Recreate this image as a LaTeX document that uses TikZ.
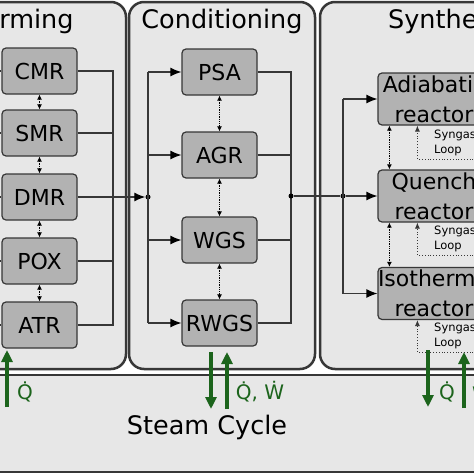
\documentclass[tikz,border=0pt]{standalone}
\usepackage{fontspec}
\setmainfont{DejaVu Sans}
\usetikzlibrary{arrows.meta,positioning,calc}
\definecolor{panelgray}{RGB}{231,231,231}
\definecolor{boxgray}{RGB}{178,178,178}
\definecolor{linegray}{RGB}{55,55,55}
\definecolor{heatgreen}{RGB}{28,100,28}

\begin{document}
\begin{tikzpicture}[x=1pt,y=-1pt,
  panel/.style={draw=linegray,fill=panelgray,line width=2.5pt,rounded corners=15pt},
  unit/.style={draw=linegray,fill=boxgray,line width=1.2pt,rounded corners=4pt,minimum width=75pt,minimum height=46pt,inner sep=0pt,font=\fontsize{22}{26}\selectfont},
  reac/.style={unit,text width=112pt,minimum height=52pt,align=center,font=\fontsize{22}{30}\selectfont},
  title/.style={font=\fontsize{25.5}{30}\selectfont,anchor=base,inner sep=0pt},
  flow/.style={draw=linegray,line width=1.2pt},
  feed/.style={flow,-{Latex[length=11pt,width=9pt,fill=black,color=black]}},
  link/.style={black,line width=1.3pt,densely dotted,{Latex[length=5pt,width=5pt]}-{Latex[length=5pt,width=5pt]}},
  loop/.style={linegray,line width=0.8pt,dotted,-{Latex[length=6pt,width=5pt]}},
  syn/.style={font=\fontsize{11.5}{15}\selectfont,align=left,anchor=west,inner sep=0pt},
  jn/.style={circle,fill=black,inner sep=0pt,minimum size=5pt},
  heat/.style={heatgreen,line width=4pt,-{Triangle[length=12pt,width=11pt]}},
  qlabel/.style={text=heatgreen,font=\fontsize{20}{24}\selectfont,inner sep=0pt}]
\useasboundingbox (0,0) rectangle (474,474);
\clip (0,0) rectangle (474,474);

\draw[panel] (-120,2) rectangle (126,369);
\draw[panel] (129,2) rectangle (315,369);
\draw[panel] (320,2) rectangle (620,369);
\draw[panel,rounded corners=0pt,line width=2pt] (-10,375) rectangle (490,472);

\node[title] (tref) at (8,28) {Reforming};
\node[title] (tcon) at (222,28) {Conditioning};
\node[title,anchor=base west] (tsyn) at (388,28) {Synthesis};
\node[title] (tsteam) at (207,434) {Steam Cycle};

\node[unit] (cmr) at (39.5,71) {CMR};
\node[unit] (smr) at (39.5,133) {SMR};
\node[unit] (dmr) at (39.5,197) {DMR};
\node[unit] (pox) at (39.5,261) {POX};
\node[unit] (atr) at (39.5,325) {ATR};

\node[unit] (psa) at (219.5,72) {PSA};
\node[unit] (agr) at (219.5,155) {AGR};
\node[unit] (wgs) at (219.5,240) {WGS};
\node[unit] (rwgs) at (219.5,323) {RWGS};

\node[reac] (adia) at (434,99) {Adiabatic\\reactor};
\node[reac] (quen) at (434,196) {Quench\\reactor};
\node[reac] (iso) at (434,293.5) {Isothermal\\reactor};

\coordinate (in1) at (-20,71);
\coordinate (in2) at (-20,133);
\coordinate (in3) at (-20,197);
\coordinate (in4) at (-20,261);
\coordinate (in5) at (-20,325);
\draw[flow] (in1) -- (cmr.west);
\draw[flow] (in2) -- (smr.west);
\draw[flow] (in3) -- (dmr.west);
\draw[flow] (in4) -- (pox.west);
\draw[flow] (in5) -- (atr.west);

\coordinate (rc1) at (113,71);
\coordinate (rc2) at (113,133);
\coordinate (rc4) at (113,261);
\coordinate (rc5) at (113,325);
\draw[flow] (cmr.east) -- (rc1) -- (rc5) -- (atr.east);
\draw[flow] (smr.east) -- (rc2);
\draw[flow] (pox.east) -- (rc4);
\node[jn] (jc1) at (148,197) {};
\draw[feed] (dmr.east) -- (jc1);

\coordinate (cl1) at (148,72);
\coordinate (cl2) at (148,155);
\coordinate (cl3) at (148,240);
\coordinate (cl4) at (148,323);
\draw[flow] (cl1) -- (cl4);
\draw[feed] (cl1) -- (psa.west);
\draw[feed] (cl2) -- (agr.west);
\draw[feed] (cl3) -- (wgs.west);
\draw[feed] (cl4) -- (rwgs.west);

\coordinate (cr1) at (291,72);
\coordinate (cr2) at (291,155);
\coordinate (cr3) at (291,240);
\coordinate (cr4) at (291,323);
\draw[flow] (psa.east) -- (cr1) -- (cr4) -- (rwgs.east);
\draw[flow] (agr.east) -- (cr2);
\draw[flow] (wgs.east) -- (cr3);
\node[jn] (jc2) at (291,196) {};
\node[jn] (jc3) at (343,196) {};
\draw[flow] (jc2) -- (jc3);

\coordinate (sl1) at (343,99);
\coordinate (sl3) at (343,293.5);
\draw[flow] (sl1) -- (sl3);
\draw[feed] (sl1) -- (adia.west);
\draw[feed] (jc3) -- (quen.west);
\draw[feed] (sl3) -- (iso.west);

\draw[link] (cmr.south) -- (smr.north);
\draw[link] (smr.south) -- (dmr.north);
\draw[link] (dmr.south) -- (pox.north);
\draw[link] (pox.south) -- (atr.north);
\draw[link] (psa.south) -- (agr.north);
\draw[link] (agr.south) -- (wgs.north);
\draw[link] (wgs.south) -- (rwgs.north);
\draw[link] ($(adia.south west)+(12,0)$) -- ($(quen.north west)+(12,0)$);
\draw[link] ($(quen.south west)+(12,0)$) -- ($(iso.north west)+(12,0)$);

\coordinate (la) at (490,159);
\coordinate (lq) at (490,255);
\coordinate (li) at (490,352);
\draw[loop] (la) -| ($(adia.south west)+(40,0)$);
\draw[loop] (lq) -| ($(quen.south west)+(40,0)$);
\draw[loop] (li) -| ($(iso.south west)+(40,0)$);
\node[syn] (sga) at (434,143) {Syngas\\Loop};
\node[syn] (sgq) at (434,239) {Syngas\\Loop};
\node[syn] (sgi) at (434,336) {Syngas\\Loop};

\coordinate (qr0) at (7,407);
\coordinate (qr1) at (7,350);
\coordinate (qc0) at (211,352);
\coordinate (qc1) at (211,409);
\coordinate (wc0) at (227,409);
\coordinate (wc1) at (227,352);
\coordinate (qs0) at (428,350);
\coordinate (qs1) at (428,407);
\coordinate (ws0) at (464,408);
\coordinate (ws1) at (464,352);
\draw[heat] (qr0) -- (qr1);
\draw[heat] (qc0) -- (qc1);
\draw[heat] (wc0) -- (wc1);
\draw[heat] (qs0) -- (qs1);
\draw[heat] (ws0) -- (ws1);
\node[qlabel] (lq1) at (25,392) {\.{Q}};
\node[qlabel] (lq2) at (260,392) {\.{Q}, \.{W}};
\node[qlabel] (lq3) at (447,392) {\.{Q}};
\node[qlabel,anchor=west] (lw3) at (472,392) {\.{W}};
\end{tikzpicture}
\end{document}
